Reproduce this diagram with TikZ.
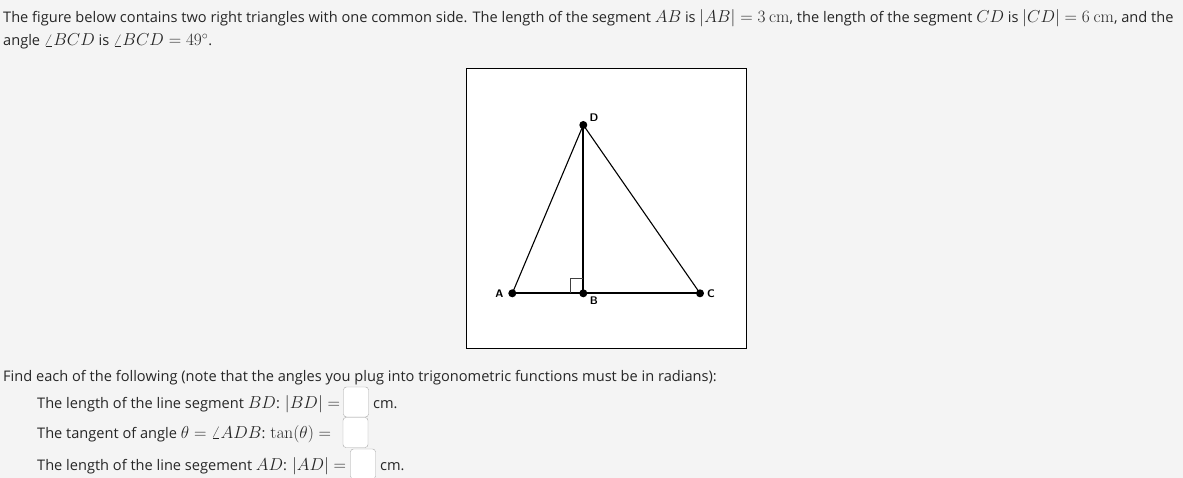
\documentclass[tikz,border=0pt]{standalone}
\usepackage[no-math]{fontspec}
\setmainfont{Open Sans}
\DeclareMathSizes{14.6}{16.8}{12}{9}
\definecolor{pagebg}{HTML}{F4F4F4}
\definecolor{ink}{HTML}{262626}

\begin{document}
\begin{tikzpicture}[x=1pt, y=-1pt, every node/.style={inner sep=0pt},
  txt/.style={anchor=base west, font=\fontsize{14.6}{17}\selectfont, text=ink},
  pt/.style={circle, fill=black, minimum size=8pt},
  lbl/.style={font=\sffamily\bfseries\fontsize{11}{11}\selectfont},
  ansbox/.style={draw=gray!70, fill=white, rounded corners=3pt,
    minimum width=25pt, minimum height=30pt}]
  \clip (0, 0) rectangle (1183, 478);
  \fill [pagebg] (0, 0) rectangle (1183, 478);

  % statement
  \node [txt] (line1) at (3, 23) {The figure below contains two right triangles with one common side. The length of the segment $AB$ is $|AB| = 3\ \mathrm{cm}$, the length of the segment $CD$ is $|CD| = 6\ \mathrm{cm}$, and the};
  \node [txt] (line2) at (3, 46) {angle $\angle BCD$ is $\angle BCD = 49^\circ$.};

  % figure
  \draw [fill=white, line width=1pt] (466.5, 68.5) rectangle (746, 348);
  \node [pt] (D) at (583.3, 125) {};
  \node [pt] (A) at (512.3, 293.3) {};
  \node [pt] (B) at (583.3, 293.3) {};
  \node [pt] (C) at (700, 293.3) {};
  \node [lbl] (lD) at (594, 117.5) {D};
  \node [lbl] (lA) at (499.5, 293.5) {A};
  \node [lbl] (lB) at (594, 301) {B};
  \node [lbl] (lC) at (711, 293.5) {C};
  \draw [line width=1.1pt] (A.center) -- (D.center) -- (C.center);
  \draw [line width=1.7pt] (A.center) -- (C.center);
  \draw [line width=1.7pt] (B.center) -- (D.center);
  \draw [line width=0.8pt, black!75] ([xshift=-12.5pt]B.center) |- ([yshift=14.5pt]B.center);

  % questions
  \node [txt] (find) at (3, 381) {Find each of the following (note that the angles you plug into trigonometric functions must be in radians):};
  \node [txt] (q1) at (37, 408.5) {The length of the line segment $BD$: $|BD| =$};
  \node [ansbox] (a1) at (356, 402) {};
  \node [txt] (u1) at (373, 408.5) {cm.};
  \node [txt] (q2) at (37, 438.5) {The tangent of angle $\theta = \angle ADB$: $\tan(\theta) =$};
  \node [ansbox] (a2) at (355.5, 432.5) {};
  \node [txt] (q3) at (37, 470) {The length of the line segement $AD$: $|AD| =$};
  \node [ansbox] (a3) at (363, 464) {};
  \node [txt] (u3) at (380, 470) {cm.};
\end{tikzpicture}
\end{document}
